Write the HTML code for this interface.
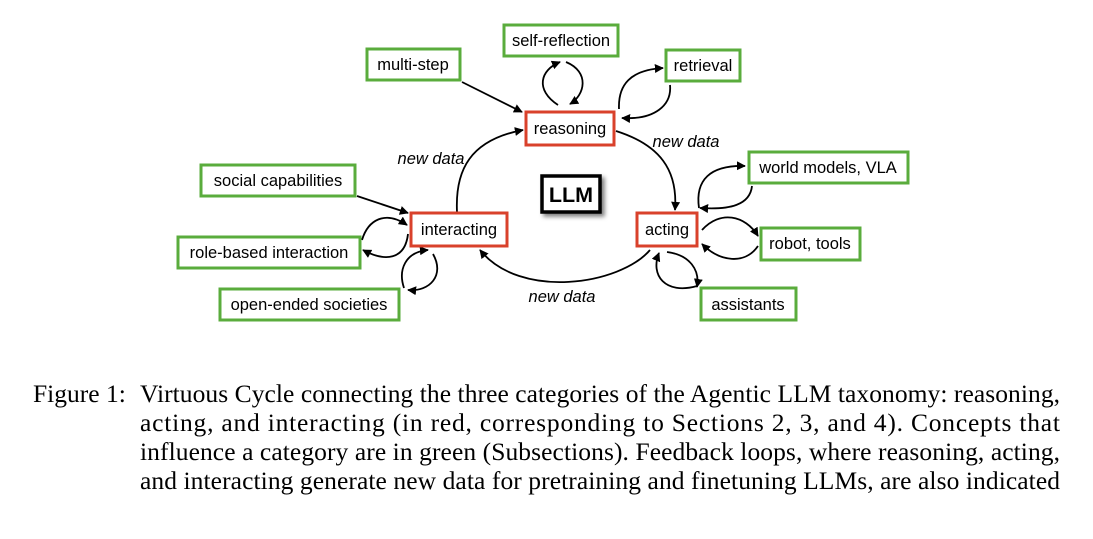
<!DOCTYPE html>
<html><head><meta charset="utf-8"><style>
html,body{margin:0;padding:0;background:#fff;}
svg{display:block;}
</style></head><body>
<svg width="1093" height="539" viewBox="0 0 1093 539" xmlns="http://www.w3.org/2000/svg">
<defs>
<marker id="a" viewBox="0 0 10 10" refX="9" refY="5" markerWidth="5" markerHeight="5" orient="auto-start-reverse">
<path d="M0,0 L10,5 L0,10 z" fill="#000"/></marker>
<filter id="sh" x="-30%" y="-30%" width="160%" height="160%"><feDropShadow dx="3" dy="3" stdDeviation="2" flood-color="#000" flood-opacity="0.5"/></filter>
</defs>
<g fill="none" stroke="#000" stroke-width="1.8">
<path d="M457,212 C455,170 470,140 523,130" marker-end="url(#a)"/>
<path d="M616,131 C660,145 678,170 675,210" marker-end="url(#a)"/>
<path d="M650,250 C620,285 520,300 480,250" marker-end="url(#a)"/>
<path d="M462,82 L522,112" marker-end="url(#a)"/>
<path d="M558,105 C535,90 540,70 560,62" marker-end="url(#a)"/>
<path d="M566,62 C590,72 585,95 570,104" marker-end="url(#a)"/>
<path d="M619,109 C618,85 630,70 663,68" marker-end="url(#a)"/>
<path d="M670,85 C672,105 655,120 622,118" marker-end="url(#a)"/>
<path d="M357,196 L408,213" marker-end="url(#a)"/>
<path d="M362,240 C368,220 385,210 407,225" marker-end="url(#a)"/>
<path d="M408,234 C405,260 385,262 363,250" marker-end="url(#a)"/>
<path d="M404,288 C398,270 405,252 428,250" marker-end="url(#a)"/>
<path d="M433,254 C445,275 430,292 408,290" marker-end="url(#a)"/>
<path d="M699,208 C695,180 710,165 745,166" marker-end="url(#a)"/>
<path d="M752,186 C750,205 730,210 700,208" marker-end="url(#a)"/>
<path d="M702,230 C720,210 745,215 758,236" marker-end="url(#a)"/>
<path d="M758,246 C745,265 720,262 702,244" marker-end="url(#a)"/>
<path d="M697,286 C665,295 650,275 659,253" marker-end="url(#a)"/>
<path d="M667,252 C690,255 700,270 697,287" marker-end="url(#a)"/>
</g>
<g stroke="#5aac3c" stroke-width="3" fill="#fff">
<rect x="367" y="49" width="93" height="31"/>
<rect x="504" y="25" width="114" height="31"/>
<rect x="666" y="50" width="74" height="31"/>
<rect x="201" y="165" width="154" height="31"/>
<rect x="178" y="237" width="182" height="31"/>
<rect x="220" y="289" width="179" height="31"/>
<rect x="749" y="152" width="159" height="31"/>
<rect x="761" y="228" width="99" height="32"/>
<rect x="701" y="288" width="95" height="32"/>
</g>
<g stroke="#d9412b" stroke-width="3" fill="#fff">
<rect x="526" y="112" width="88" height="33"/>
<rect x="411" y="213" width="96" height="33"/>
<rect x="637" y="213" width="60" height="33"/>
</g>
<rect x="542" y="176" width="58" height="36" fill="#fff" stroke="#000" stroke-width="3.5" filter="url(#sh)"/>
<g font-family="Liberation Sans, sans-serif" font-size="16.5" fill="#000" text-anchor="middle">
<text x="413" y="70">multi-step</text>
<text x="561" y="46">self-reflection</text>
<text x="703" y="71">retrieval</text>
<text x="570" y="134">reasoning</text>
<text x="278" y="186">social capabilities</text>
<text x="269" y="258">role-based interaction</text>
<text x="309" y="310">open-ended societies</text>
<text x="459" y="235">interacting</text>
<text x="667" y="235">acting</text>
<text x="828" y="173">world models, VLA</text>
<text x="810" y="249">robot, tools</text>
<text x="748" y="310">assistants</text>
<text x="571" y="202" font-weight="bold" font-size="21.5">LLM</text>
<g font-style="italic" font-size="16.5">
<text x="431" y="164">new data</text>
<text x="686" y="147">new data</text>
<text x="562" y="302">new data</text>
</g>
</g>
<g font-family="Liberation Serif, serif" font-size="25.5" fill="#000">
<text x="33" y="402">Figure 1:</text>
<text x="140" y="402" textLength="920" lengthAdjust="spacing">Virtuous Cycle connecting the three categories of the Agentic LLM taxonomy: reasoning,</text>
<text x="140" y="431" textLength="920" lengthAdjust="spacing">acting, and interacting (in red, corresponding to Sections 2, 3, and 4).  Concepts that</text>
<text x="140" y="460" textLength="920" lengthAdjust="spacing">influence a category are in green (Subsections). Feedback loops, where reasoning, acting,</text>
<text x="140" y="489" textLength="920" lengthAdjust="spacing">and interacting generate new data for pretraining and finetuning LLMs, are also indicated</text>
</g>
</svg>
</body></html>
